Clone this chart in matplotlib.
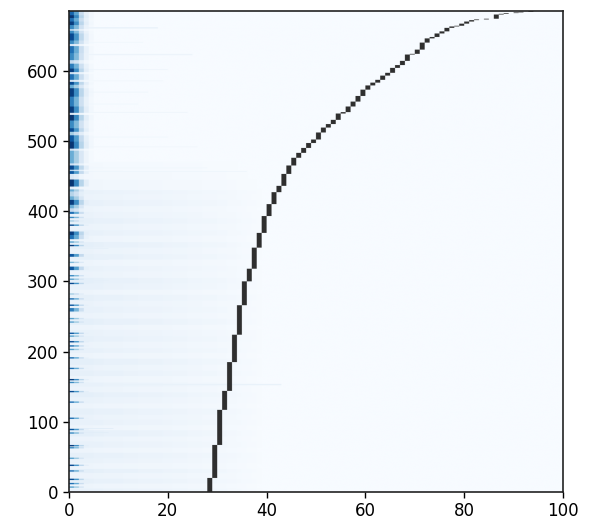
import numpy as np
import matplotlib
matplotlib.use("Agg")
import matplotlib.pyplot as plt

n_rows = 685
n_cols = 100

# first column of the peak curve, then the last row of each column in turn
peak_first_col = 28
peak_end = [20, 67, 117, 144, 185, 224, 266, 300, 318, 348, 369, 393, 410, 427, 436,
            453, 465, 476, 483, 490, 497, 502, 512, 519, 524, 530, 539, 541, 549, 556,
            564, 573, 579, 583, 587, 593, 597, 604, 608, 614, 623, 624, 630, 640, 646,
            648, 653, 656, 661, 663, 664, 667, 670, 672, 673, 673, 674, 674, 680, 681,
            682, 682, 683, 684, 684, 685]

# strong bands at the left edge
left_start = [679, 675, 670, 665, 659, 657, 653, 643, 638, 635, 625, 615, 610, 603, 598, 595,
              587, 584, 580, 575, 563, 549, 540, 537, 529, 518, 513, 508, 499, 489, 486, 478,
              468, 465, 459, 457, 453, 445, 435, 431, 428, 421, 416, 409, 404, 399, 396, 390,
              385, 379, 366, 360, 355, 350, 335, 326, 316, 307, 302, 296, 281, 274, 265, 257,
              246, 241, 225, 221, 213, 207, 202, 190, 175, 159, 155, 142, 127, 104, 88, 83,
              65, 62, 47, 37, 29, 17, 11, 6]
left_end = [685, 679, 675, 670, 665, 659, 657, 653, 643, 638, 635, 625, 615, 610, 603, 598,
            595, 587, 584, 580, 575, 563, 549, 540, 537, 529, 518, 513, 508, 499, 489, 486,
            478, 468, 465, 459, 457, 453, 445, 435, 431, 428, 421, 416, 409, 404, 399, 392,
            387, 381, 371, 366, 357, 352, 339, 328, 321, 309, 304, 298, 283, 276, 267, 262,
            248, 243, 227, 223, 215, 209, 204, 192, 177, 161, 157, 144, 129, 106, 90, 85,
            67, 64, 49, 39, 31, 19, 13, 8]
left_level = [.8, .98, .75, .95, .65, .15, .65, .9, .65, .15, .75, .65, .25, .7, .95, .2,
              .75, .2, .9, .5, .95, .7, .95, .15, .98, .65, .9, .35, .85, .98, .2, .5,
              .5, .2, .9, .3, .85, .15, .98, .1, .5, .3, .5, .95, .5, .25, .75, .65,
              .35, .9, .95, .75, .55, .95, .85, .45, .85, .65, .55, .9, .35, .75, .85, .7,
              .55, .55, .85, .55, .9, .75, .55, .75, .75, .95, .65, .9, .75, .75, .85, .65,
              .95, .65, .55, .9, .75, .9, .75, .55]
left_profile = [1.0, .68, .3, .1, .03]

# tint of the lower rows by column, fading towards the curve
tint_profile = [.07, .07, .07, .07, .07, .065, .065, .06, .06, .06, .06, .055, .055, .055, .05,
                .05, .05, .05, .05, .045, .045, .04, .04, .04, .035, .035, .035, .03, .03, .03,
                .025, .025, .02, .02, .015, .012, .01, .008, .005, .003]

# row bands that scale the tint
band_start = [0, 5, 12, 19, 27, 33, 41, 48, 56, 63, 72, 79, 88, 95, 103, 110, 119, 126, 135, 142,
              150, 156, 165, 173, 181, 190, 198, 205, 214, 222, 231, 238, 247, 255, 264, 272,
              281, 288, 297, 305, 314, 322, 331, 339, 348, 356, 365, 373, 382, 390, 399, 407,
              416, 424, 430, 445, 458]
band_end = [5, 12, 19, 27, 33, 41, 48, 56, 63, 72, 79, 88, 95, 103, 110, 119, 126, 135, 142, 150,
            156, 165, 173, 181, 190, 198, 205, 214, 222, 231, 238, 247, 255, 264, 272, 281,
            288, 297, 305, 314, 322, 331, 339, 348, 356, 365, 373, 382, 390, 399, 407, 416,
            424, 430, 445, 458, 470]
band_scale = [1.1, .7, 1.2, .8, 1.3, .7, 1.0, 1.2, .7, 1.1, .8, 1.3, .7, 1.1, .9, 1.2, .7, 1.0, 1.3, .8,
              1.1, .7, 1.2, .9, 1.3, .7, 1.1, .8, 1.2, 1.0, .7, 1.3, .8, 1.1, .9, 1.2,
              .7, 1.1, 1.3, .8, 1.0, .7, 1.2, .9, 1.3, .7, 1.1, .8, 1.2, .9, .7, 1.1,
              .8, 1.0, .5, .35, .25]

# single long streaks
streak_row = [152, 153, 90, 84, 331, 346, 301, 456, 461, 491, 505, 540, 552, 569, 585, 601, 622, 623, 640, 660, 661]
streak_cols = [43, 43, 9, 8, 8, 8, 8, 36, 28, 26, 20, 24, 14, 16, 19, 20, 25, 25, 15, 18, 18]
streak_level = [.07, .07, .12, .11, .1, .1, .09, .05, .04, .04, .04, .05, .04, .05, .04, .05, .05, .05, .04, .07, .07]

matrix = np.zeros((n_rows, n_cols))
tint = np.array(tint_profile)
for s, e, v in zip(band_start, band_end, band_scale):
    matrix[s:e, :len(tint)] = tint * v
for r, c, v in zip(streak_row, streak_cols, streak_level):
    matrix[r, :c] = np.maximum(matrix[r, :c], v)
for s, e, v in zip(left_start, left_end, left_level):
    for c, p in enumerate(left_profile):
        matrix[s:e, c] = np.maximum(matrix[s:e, c], v * p)

prev = 0
for i, end in enumerate(peak_end):
    matrix[prev:end, peak_first_col + i] = 2
    prev = end

cmap = plt.get_cmap("Blues").copy()
cmap.set_over("#2f2f2f")

fig = plt.figure(figsize=(6.01, 5.31), dpi=100)
ax = fig.add_axes([69 / 601, 1 - 492 / 531, (563 - 69) / 601, (492 - 11) / 531])
# repeat the columns so that the cells keep hard edges when resampled
ax.imshow(np.repeat(matrix, 10, axis=1), cmap=cmap, vmin=0, vmax=1, aspect="auto", origin="lower",
          extent=[0, n_cols, 0, n_rows], interpolation="antialiased",
          interpolation_stage="rgba")
ax.set_xticks(range(0, 101, 20))
ax.set_yticks(range(0, 601, 100))
ax.tick_params(labelsize=12, width=1.0, length=4)
for s in ax.spines.values():
    s.set_linewidth(1.2)
    s.set_color("#222222")

fig.savefig("out.png", dpi=100)
